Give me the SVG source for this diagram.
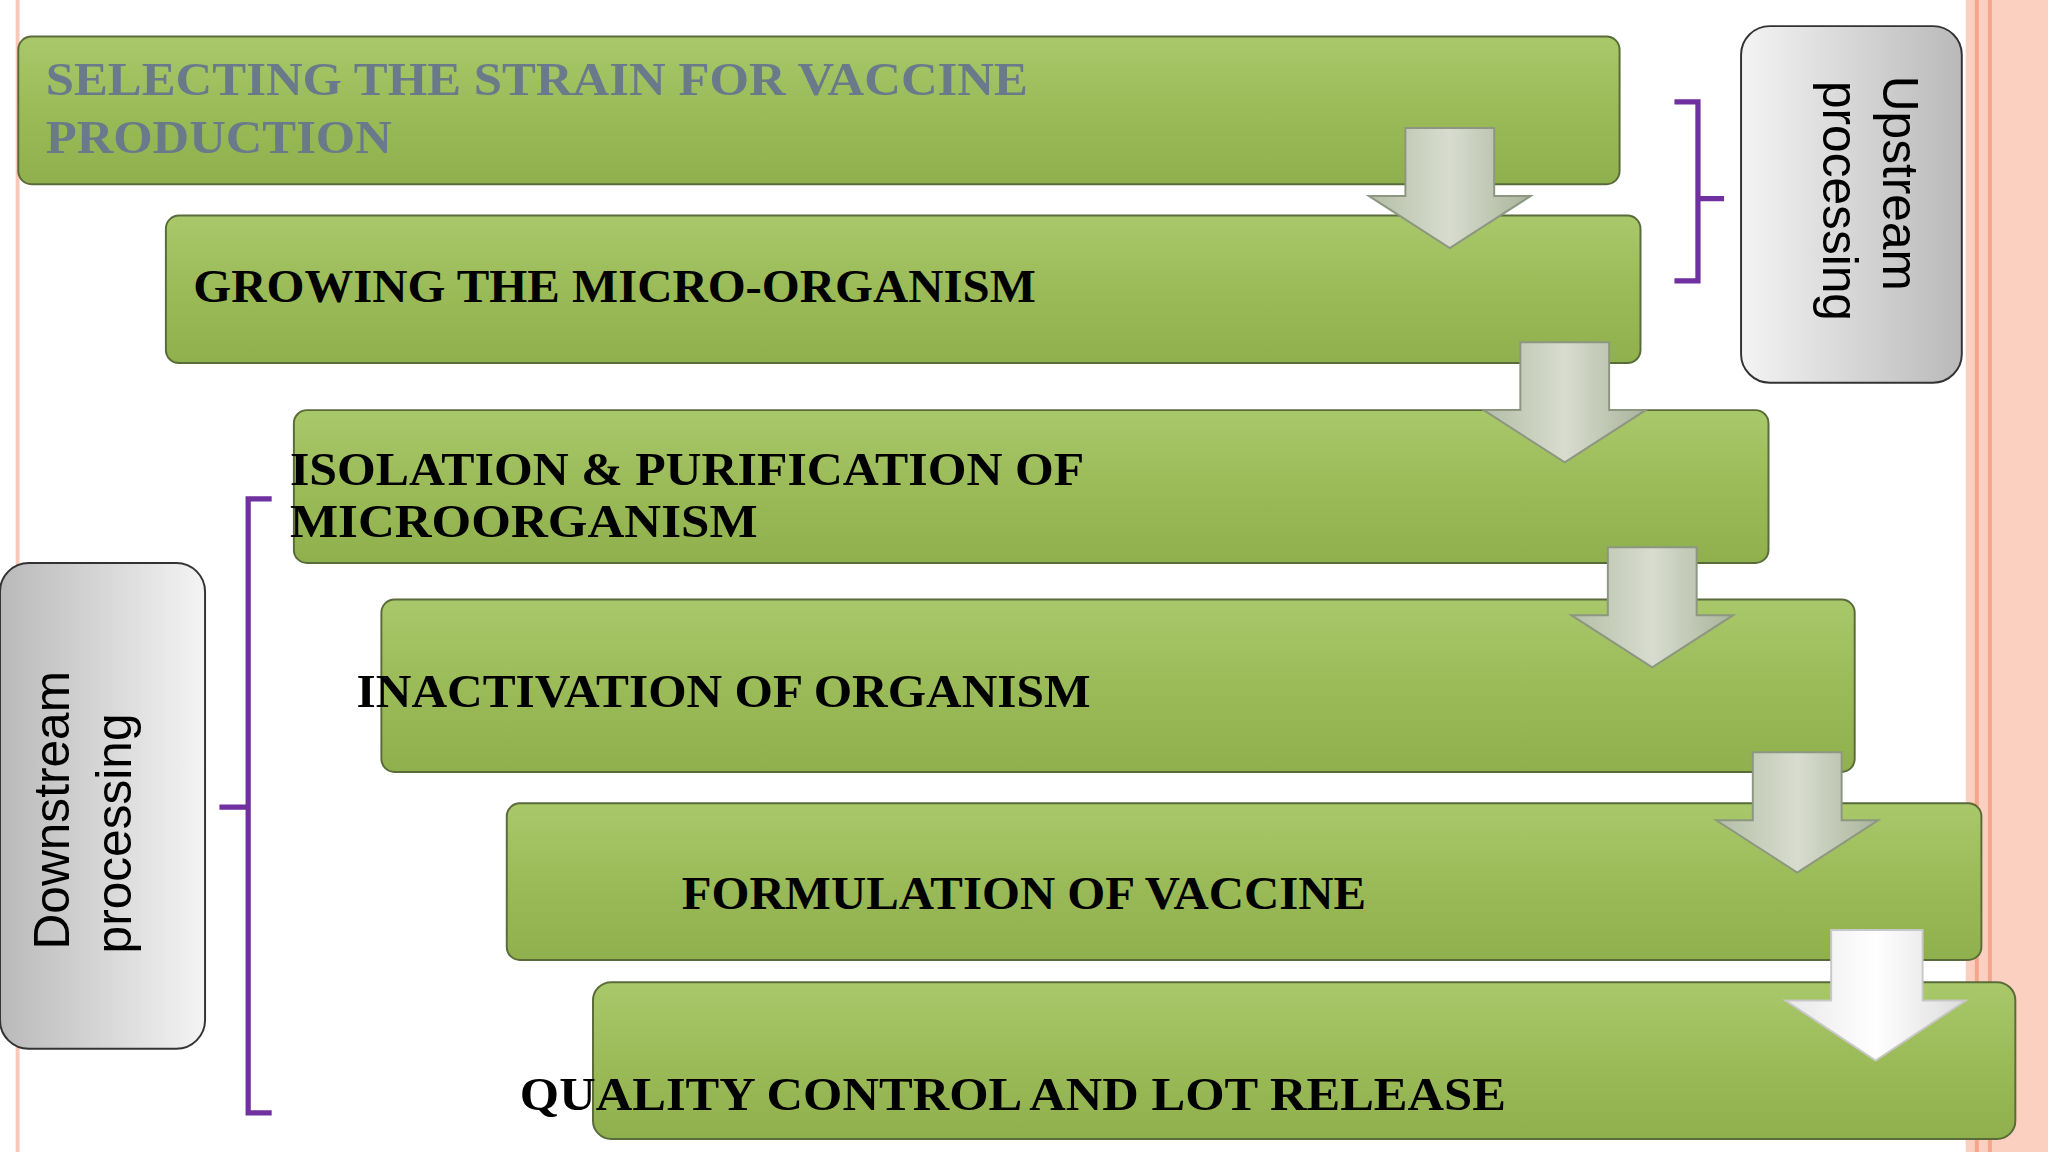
<svg xmlns="http://www.w3.org/2000/svg" width="2048" height="1152" viewBox="0 0 2048 1152">
<defs>
<linearGradient id="g" x1="0" y1="0" x2="0" y2="1"><stop offset="0" stop-color="#a9c86a"/><stop offset="0.5" stop-color="#9bbb59"/><stop offset="1" stop-color="#8fb04d"/></linearGradient>
<linearGradient id="gr" x1="0" y1="0" x2="1" y2="0"><stop offset="0" stop-color="#f4f4f4"/><stop offset="1" stop-color="#b9b9b9"/></linearGradient>
<linearGradient id="gl" x1="1" y1="0" x2="0" y2="0"><stop offset="0" stop-color="#f4f4f4"/><stop offset="1" stop-color="#b9b9b9"/></linearGradient>
<linearGradient id="ag" x1="0" y1="0" x2="1" y2="0"><stop offset="0" stop-color="#b4bea6"/><stop offset="0.5" stop-color="#d8dccf"/><stop offset="1" stop-color="#a9b39a"/></linearGradient>
<linearGradient id="aw" x1="0" y1="0" x2="1" y2="0"><stop offset="0" stop-color="#e8e8e8"/><stop offset="0.5" stop-color="#ffffff"/><stop offset="1" stop-color="#dcdcdc"/></linearGradient>
<style>
.box{fill:url(#g);stroke:#5a6b3a;stroke-width:1.5}
.t{font-family:"Liberation Serif",serif;font-weight:bold;font-size:36px;fill:#000}
.gt{fill:#6b7a8a}
.side{stroke:#333;stroke-width:1.5}
.st{font-family:"Liberation Sans",Arial,sans-serif;font-size:38px;fill:#000}
.br{fill:none;stroke:#7030a0;stroke-width:4}
.arr{fill:url(#ag);stroke:#8c9680;stroke-width:1.5}
</style>
</defs>
<rect width="2048" height="1152" fill="#fff"/>
<g transform="scale(1.30612)">
<rect x="1505" y="0" width="63" height="882" fill="#fbd0c0"/>
<rect x="1512" y="0" width="3" height="882" fill="#f4a58a"/>
<rect x="1522" y="0" width="3" height="882" fill="#f4a58a"/>
<rect x="12" y="0" width="3" height="882" fill="#f8c8b8"/>
<g id="n1"><rect class="box" x="14" y="28" width="1226" height="113" rx="10"/><text class="t gt" x="35" y="73" textLength="752" lengthAdjust="spacingAndGlyphs">SELECTING THE STRAIN FOR  VACCINE</text><text class="t gt" x="35" y="117" textLength="265" lengthAdjust="spacingAndGlyphs">PRODUCTION</text></g>
<g id="n2"><rect class="box" x="127" y="165" width="1129" height="113" rx="10"/><text class="t" x="148" y="231" textLength="645" lengthAdjust="spacingAndGlyphs">GROWING THE MICRO-ORGANISM</text></g>
<g id="n3"><rect class="box" x="225" y="314" width="1129" height="117" rx="10"/><text class="t" x="222" y="371" textLength="608" lengthAdjust="spacingAndGlyphs">ISOLATION &amp; PURIFICATION OF</text><text class="t" x="222" y="411" textLength="358" lengthAdjust="spacingAndGlyphs">MICROORGANISM</text></g>
<g id="n4"><rect class="box" x="292" y="459" width="1128" height="132" rx="10"/><text class="t" x="273" y="541" textLength="562" lengthAdjust="spacingAndGlyphs">INACTIVATION OF ORGANISM</text></g>
<g id="n5"><rect class="box" x="388" y="615" width="1129" height="120" rx="10"/><text class="t" x="522" y="696" textLength="524" lengthAdjust="spacingAndGlyphs">FORMULATION OF VACCINE</text></g>
<g id="n6"><rect class="box" x="454" y="752" width="1089" height="120" rx="14"/><text class="t" x="398" y="850" textLength="755" lengthAdjust="spacingAndGlyphs">QUALITY CONTROL AND LOT RELEASE</text></g>
<g id="up"><rect class="side" fill="url(#gr)" x="1333" y="20" width="169" height="273" rx="22"/><text class="st" transform="translate(1442,58) rotate(90)">Upstream</text><text class="st" transform="translate(1396,62) rotate(90)">processing</text></g>
<g id="down"><rect class="side" fill="url(#gl)" x="0" y="431" width="157" height="372" rx="22"/><text class="st" transform="translate(53,727) rotate(-90)">Downstream</text><text class="st" transform="translate(100,730) rotate(-90)">processing</text></g>
<g id="connectors">
<path class="arr" d="M1076 98H1144V150H1172L1110 190L1048 150H1076Z"/>
<path class="arr" d="M1164 262H1232V314H1260L1198 354L1136 314H1164Z"/>
<path class="arr" d="M1231 419H1299V471H1327L1265 511L1203 471H1231Z"/>
<path class="arr" d="M1342 576H1410V628H1438L1376 668L1314 628H1342Z"/>
<path fill="url(#aw)" stroke="#c8c8c8" stroke-width="1.5" d="M1402 712H1472V766H1505L1436 812L1367 766H1402Z"/>
<path class="br" d="M1282 78H1300V152H1320M1300 152V215H1282"/>
<path class="br" d="M208 382H190V618H168M190 618V852H208"/>
</g>
</g>
</svg>
